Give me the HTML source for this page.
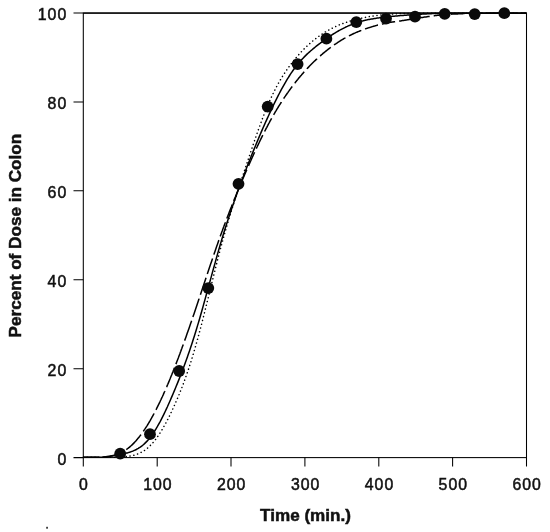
<!DOCTYPE html><html><head><meta charset="utf-8"><title>Percent of Dose in Colon</title>
<style>html,body{margin:0;padding:0;background:#fff}svg{display:block}text{font-family:"Liberation Sans",sans-serif;fill:#111;stroke:#111;stroke-width:0.5px}</style></head><body>
<svg width="550" height="532" viewBox="0 0 550 532">
<rect width="550" height="532" fill="#fff"/>
<rect x="83.3" y="13.0" width="443.2" height="444.6" fill="none" stroke="#000" stroke-width="1.05"/>
<path d="M83.3,13.05 H526.5" stroke="#000" stroke-width="1.3" fill="none"/>
<path d="M83.3,457.6 v9 M157.2,457.6 v9 M231.0,457.6 v9 M304.9,457.6 v9 M378.8,457.6 v9 M452.6,457.6 v9 M526.5,457.6 v9 M83.3,457.6 h-9.8 M83.3,368.7 h-9.8 M83.3,279.8 h-9.8 M83.3,190.8 h-9.8 M83.3,101.9 h-9.8 M83.3,13.0 h-9.8" stroke="#000" stroke-width="1.05" fill="none"/>
<text x="84.0" y="490.2" font-size="15.8" letter-spacing="1" text-anchor="middle">0</text>
<text x="157.9" y="490.2" font-size="15.8" letter-spacing="1" text-anchor="middle">100</text>
<text x="231.7" y="490.2" font-size="15.8" letter-spacing="1" text-anchor="middle">200</text>
<text x="305.6" y="490.2" font-size="15.8" letter-spacing="1" text-anchor="middle">300</text>
<text x="379.5" y="490.2" font-size="15.8" letter-spacing="1" text-anchor="middle">400</text>
<text x="453.3" y="490.2" font-size="15.8" letter-spacing="1" text-anchor="middle">500</text>
<text x="527.2" y="490.2" font-size="15.8" letter-spacing="1" text-anchor="middle">600</text>
<text x="67.3" y="464.6" font-size="15.9" letter-spacing="1" text-anchor="end">0</text>
<text x="67.3" y="375.7" font-size="15.9" letter-spacing="1" text-anchor="end">20</text>
<text x="67.3" y="286.8" font-size="15.9" letter-spacing="1" text-anchor="end">40</text>
<text x="67.3" y="197.8" font-size="15.9" letter-spacing="1" text-anchor="end">60</text>
<text x="67.3" y="108.9" font-size="15.9" letter-spacing="1" text-anchor="end">80</text>
<text x="67.3" y="20.0" font-size="15.9" letter-spacing="1" text-anchor="end">100</text>
<text transform="translate(305.5,520.5) scale(1.03,1)" font-size="16.6" font-weight="bold" text-anchor="middle">Time (min.)</text>
<text transform="translate(20.6,235.6) rotate(-90) scale(1.033,1)" font-size="16.6" font-weight="bold" text-anchor="middle">Percent of Dose in Colon</text>
<path d="M83.3,457.3 L83.8,457.3 L84.3,457.3 L84.8,457.3 L85.3,457.3 L85.8,457.3 L86.3,457.3 L86.8,457.3 L87.3,457.3 L87.8,457.3 L88.3,457.3 L88.8,457.3 L89.3,457.3 L89.8,457.3 L90.3,457.3 L90.8,457.3 L91.3,457.3 L91.8,457.3 L92.3,457.3 L92.8,457.3 L93.3,457.3 L93.8,457.3 L94.3,457.2 L94.8,457.2 L95.3,457.2 L95.8,457.2 L96.3,457.2 L96.8,457.2 L97.3,457.2 L97.8,457.2 L98.3,457.2 L98.8,457.1 M102.8,457.0 L102.8,457.0 L103.3,456.9 L103.8,456.9 L104.3,456.9 L104.8,456.8 L105.3,456.8 L105.8,456.7 L106.3,456.7 L106.8,456.6 L107.3,456.6 L107.8,456.5 L108.3,456.5 L108.8,456.4 L109.3,456.3 L109.8,456.2 L110.3,456.1 L110.8,456.0 L111.3,455.9 L111.8,455.8 L112.3,455.7 L112.8,455.6 L113.3,455.5 L113.8,455.4 L114.3,455.2 L114.8,455.1 L115.3,455.0 L115.8,454.8 L116.3,454.6 L116.8,454.5 L117.3,454.3 L117.8,454.1 L118.3,453.9 L118.8,453.7 L119.3,453.5 L119.8,453.3 L120.3,453.1 L120.8,452.8 L121.3,452.6 L121.8,452.3 L122.3,452.1 L122.8,451.8 L122.9,451.7 M126.3,449.6 L126.8,449.2 L127.3,448.9 L127.8,448.5 L128.3,448.1 L128.8,447.7 L129.3,447.3 L129.8,446.9 L130.3,446.4 L130.8,446.0 L131.3,445.5 L131.8,445.1 L132.3,444.6 L132.8,444.1 L133.3,443.6 L133.8,443.1 L134.3,442.6 L134.8,442.1 L135.3,441.5 L135.8,441.0 L136.3,440.4 L136.8,439.8 L137.3,439.2 L137.8,438.6 L138.3,438.0 L138.8,437.4 L139.3,436.8 L139.8,436.1 L140.3,435.5 L140.8,434.8 L140.9,434.6 M143.3,431.4 L143.3,431.4 L143.8,430.6 L144.3,429.9 L144.8,429.2 L145.3,428.4 L145.8,427.6 L146.3,426.8 L146.8,426.1 L147.3,425.3 L147.8,424.5 L148.3,423.6 L148.8,422.8 L149.3,422.0 L149.8,421.1 L150.3,420.3 L150.8,419.4 L151.3,418.5 L151.8,417.6 L152.3,416.7 L152.8,415.8 L153.3,414.9 L153.8,414.0 L154.1,413.4 M156.0,409.9 L156.3,409.2 L156.8,408.2 L157.3,407.2 L157.8,406.2 L158.3,405.2 L158.8,404.2 L159.3,403.1 L159.8,402.1 L160.3,401.0 L160.8,400.0 L161.3,398.9 L161.8,397.8 L162.3,396.8 L162.8,395.7 L163.3,394.6 L163.8,393.4 L164.3,392.3 L164.8,391.2 L164.9,390.9 M166.5,387.2 L166.8,386.6 L167.3,385.4 L167.8,384.3 L168.3,383.1 L168.8,381.9 L169.3,380.7 L169.8,379.5 L170.3,378.3 L170.8,377.0 L171.3,375.8 L171.8,374.6 L172.3,373.3 L172.8,372.1 L173.3,370.8 L173.8,369.6 L174.3,368.3 L174.5,367.8 M175.9,364.1 L176.3,363.1 L176.8,361.8 L177.3,360.5 L177.8,359.2 L178.3,357.9 L178.8,356.5 L179.3,355.2 L179.8,353.9 L180.3,352.5 L180.8,351.2 L181.3,349.8 L181.8,348.5 L182.3,347.1 L182.8,345.7 L183.3,344.4 M184.6,340.6 L184.8,340.2 L185.3,338.8 L185.8,337.4 L186.3,336.0 L186.8,334.6 L187.3,333.1 L187.8,331.7 L188.3,330.3 L188.8,328.9 L189.3,327.4 L189.8,326.0 L190.3,324.6 L190.8,323.1 L191.3,321.7 L191.6,320.8 M192.9,317.0 L193.3,315.8 L193.8,314.4 L194.3,312.9 L194.8,311.4 L195.3,310.0 L195.8,308.5 L196.3,307.0 L196.8,305.5 L197.3,304.0 L197.8,302.5 L198.3,301.0 L198.8,299.6 L199.1,298.6 M200.4,294.8 L200.8,293.6 L201.3,292.1 L201.8,290.6 L202.3,289.1 L202.8,287.6 L203.3,286.1 L203.8,284.6 L204.3,283.1 L204.8,281.6 L205.3,280.1 L205.8,278.6 L206.0,277.8 M207.3,274.0 L207.8,272.6 L208.3,271.1 L208.8,269.6 L209.3,268.1 L209.8,266.6 L210.3,265.1 L210.8,263.6 L211.3,262.2 L211.8,260.7 L212.3,259.2 L212.6,258.4 M213.9,254.6 L214.3,253.3 L214.8,251.9 L215.3,250.4 L215.8,249.0 L216.3,247.6 L216.8,246.1 L217.3,244.7 L217.8,243.3 L218.3,241.8 L218.8,240.4 L218.9,240.2 M220.2,236.4 L220.3,236.2 L220.8,234.8 L221.3,233.4 L221.8,232.0 L222.3,230.7 L222.8,229.3 L223.3,227.9 L223.8,226.6 L224.3,225.2 L224.8,223.9 L225.3,222.6 L225.4,222.3 M226.8,218.6 L226.8,218.6 L227.3,217.3 L227.8,216.0 L228.3,214.7 L228.8,213.4 L229.3,212.1 L229.8,210.8 L230.3,209.5 L230.8,208.2 L231.3,207.0 L231.8,205.7 L232.2,204.6 M233.7,200.9 L233.8,200.7 L234.3,199.4 L234.8,198.2 L235.3,197.0 L235.8,195.7 L236.3,194.5 L236.8,193.3 L237.3,192.1 L237.8,190.9 L238.3,189.7 L238.8,188.5 L239.3,187.3 L239.4,187.0 M241.0,183.3 L241.3,182.5 L241.8,181.3 L242.3,180.2 L242.8,179.0 L243.3,177.8 L243.8,176.7 L244.3,175.5 L244.8,174.3 L245.3,173.2 L245.8,172.0 L246.3,170.9 L246.8,169.7 L246.9,169.6 M248.5,165.9 L248.8,165.2 L249.3,164.0 L249.8,162.9 L250.3,161.8 L250.8,160.7 L251.3,159.5 L251.8,158.4 L252.3,157.3 L252.8,156.2 L253.3,155.1 L253.8,154.0 L254.3,152.9 L254.6,152.2 M256.3,148.6 L256.8,147.5 L257.3,146.5 L257.8,145.4 L258.3,144.4 L258.8,143.3 L259.3,142.3 L259.8,141.2 L260.3,140.2 L260.8,139.2 L261.3,138.1 L261.8,137.1 L262.3,136.1 L262.8,135.1 L262.8,135.1 M264.6,131.5 L264.8,131.1 L265.3,130.2 L265.8,129.2 L266.3,128.2 L266.8,127.3 L267.3,126.3 L267.8,125.4 L268.3,124.4 L268.8,123.5 L269.3,122.6 L269.8,121.6 L270.3,120.7 L270.8,119.8 L271.3,118.9 L271.7,118.3 M273.6,114.8 L273.8,114.5 L274.3,113.7 L274.8,112.8 L275.3,111.9 L275.8,111.1 L276.3,110.3 L276.8,109.4 L277.3,108.6 L277.8,107.8 L278.3,107.0 L278.8,106.2 L279.3,105.4 L279.8,104.6 L280.3,103.8 L280.8,103.0 L281.3,102.2 L281.4,102.0 M283.6,98.6 L283.8,98.4 L284.3,97.6 L284.8,96.9 L285.3,96.2 L285.8,95.4 L286.3,94.7 L286.8,94.0 L287.3,93.3 L287.8,92.6 L288.3,91.8 L288.8,91.1 L289.3,90.5 L289.8,89.8 L290.3,89.1 L290.8,88.4 L291.3,87.7 L291.8,87.0 L292.3,86.4 L292.3,86.4 M294.7,83.2 L294.8,83.1 L295.3,82.5 L295.8,81.8 L296.3,81.2 L296.8,80.6 L297.3,80.0 L297.8,79.4 L298.3,78.7 L298.8,78.1 L299.3,77.5 L299.8,76.9 L300.3,76.3 L300.8,75.7 L301.3,75.2 L301.8,74.6 L302.3,74.0 L302.8,73.4 L303.3,72.9 L303.8,72.3 L304.2,71.8 M306.9,68.9 L307.3,68.4 L307.8,67.9 L308.3,67.4 L308.8,66.9 L309.3,66.3 L309.8,65.8 L310.3,65.3 L310.8,64.8 L311.3,64.3 L311.8,63.8 L312.3,63.3 L312.8,62.8 L313.3,62.3 L313.8,61.8 L314.3,61.3 L314.8,60.8 L315.3,60.4 L315.8,59.9 L316.3,59.4 L316.8,59.0 L317.1,58.7 M320.0,56.0 L320.3,55.8 L320.8,55.4 L321.3,54.9 L321.8,54.5 L322.3,54.1 L322.8,53.6 L323.3,53.2 L323.8,52.8 L324.3,52.4 L324.8,52.0 L325.3,51.6 L325.8,51.2 L326.3,50.8 L326.8,50.4 L327.3,50.0 L327.8,49.6 L328.3,49.2 L328.8,48.8 L329.3,48.4 L329.8,48.0 L330.3,47.7 L330.8,47.3 L330.8,47.3 M334.1,45.0 L334.3,44.8 L334.8,44.4 L335.3,44.1 L335.8,43.8 L336.3,43.4 L336.8,43.1 L337.3,42.8 L337.8,42.4 L338.3,42.1 L338.8,41.8 L339.3,41.5 L339.8,41.1 L340.3,40.8 L340.8,40.5 L341.3,40.2 L341.8,39.9 L342.3,39.6 L342.8,39.3 L343.3,39.0 L343.8,38.7 L344.3,38.4 L344.8,38.2 L345.3,37.9 L345.5,37.8 M349.0,35.9 L349.3,35.7 L349.8,35.5 L350.3,35.2 L350.8,35.0 L351.3,34.7 L351.8,34.5 L352.3,34.2 L352.8,34.0 L353.3,33.8 L353.8,33.5 L354.3,33.3 L354.8,33.1 L355.3,32.9 L355.8,32.6 L356.3,32.4 L356.8,32.2 L357.3,32.0 L357.8,31.8 L358.3,31.6 L358.8,31.4 L359.3,31.2 L359.8,31.0 L360.3,30.8 L360.8,30.6 L361.3,30.4 L361.3,30.4 M365.1,29.0 L365.3,28.9 L365.8,28.7 L366.3,28.6 L366.8,28.4 L367.3,28.2 L367.8,28.1 L368.3,27.9 L368.8,27.7 L369.3,27.6 L369.8,27.4 L370.3,27.3 L370.8,27.1 L371.3,26.9 L371.8,26.8 L372.3,26.6 L372.8,26.5 L373.3,26.3 L373.8,26.2 L374.3,26.1 L374.8,25.9 L375.3,25.8 L375.8,25.6 L376.3,25.5 L376.8,25.4 L377.3,25.2 L377.8,25.1 L378.0,25.1 M381.9,24.1 L382.3,24.0 L382.8,23.9 L383.3,23.8 L383.8,23.6 L384.3,23.5 L384.8,23.4 L385.3,23.3 L385.8,23.2 L386.3,23.1 L386.8,23.0 L387.3,22.9 L387.8,22.8 L388.3,22.7 L388.8,22.6 L389.3,22.5 L389.8,22.4 L390.3,22.3 L390.8,22.3 L391.3,22.2 L391.8,22.1 L392.3,22.0 L392.8,22.0 L393.3,21.9 L393.8,21.8 L394.3,21.7 L394.8,21.7 L395.1,21.6 M399.1,21.1 L399.3,21.1 L399.8,21.0 L400.3,20.9 L400.8,20.9 L401.3,20.8 L401.8,20.7 L402.3,20.6 L402.8,20.6 L403.3,20.5 L403.8,20.4 L404.3,20.3 L404.8,20.3 L405.3,20.2 L405.8,20.1 L406.3,20.0 L406.8,19.9 L407.3,19.8 L407.8,19.8 L408.3,19.7 L408.8,19.6 L409.3,19.5 L409.8,19.4 L410.3,19.3 L410.8,19.3 L411.3,19.2 L411.8,19.1 L412.3,19.0 L412.4,19.0 M416.4,18.3 L416.8,18.3 L417.3,18.2 L417.8,18.1 L418.3,18.0 L418.8,18.0 L419.3,17.9 L419.8,17.8 L420.3,17.7 L420.8,17.7 L421.3,17.6 L421.8,17.5 L422.3,17.4 L422.8,17.4 L423.3,17.3 L423.8,17.2 L424.3,17.1 L424.8,17.1 L425.3,17.0 L425.8,16.9 L426.3,16.9 L426.8,16.8 L427.3,16.7 L427.8,16.6 L428.3,16.6 L428.8,16.5 L429.3,16.4 L429.7,16.4 M433.7,15.8 L433.8,15.8 L434.3,15.7 L434.8,15.7 L435.3,15.6 L435.8,15.5 L436.3,15.5 L436.8,15.4 L437.3,15.3 L437.8,15.3 L438.3,15.2 L438.8,15.2 L439.3,15.1 L439.8,15.0 L440.3,15.0 L440.8,14.9 L441.3,14.9 L441.8,14.8 L442.3,14.8 L442.8,14.8 L443.3,14.7 L443.8,14.7 L444.3,14.6 L444.8,14.6 L445.3,14.6 L445.8,14.5 L446.3,14.5 L446.8,14.5 L447.1,14.4 M451.1,14.2 L451.3,14.2 L451.8,14.2 L452.3,14.1 L452.8,14.1 L453.3,14.1 L453.8,14.0 L454.3,14.0 L454.8,14.0 L455.3,14.0 L455.8,13.9 L456.3,13.9 L456.8,13.9 L457.3,13.9 L457.8,13.9 L458.3,13.8 L458.8,13.8 L459.3,13.8 L459.8,13.8 L460.3,13.8 L460.8,13.7 L461.3,13.7 L461.8,13.7 L462.3,13.7 L462.8,13.7 L463.3,13.6 L463.8,13.6 L464.3,13.6 L464.6,13.6 M468.6,13.5 L468.8,13.5 L469.3,13.5 L469.8,13.5 L470.3,13.5 L470.8,13.5 L471.3,13.4 L471.8,13.4 L472.3,13.4 L472.8,13.4 L473.3,13.4 L473.8,13.4 L474.3,13.4 L474.8,13.4 L475.3,13.4 L475.8,13.4 L476.3,13.4 L476.8,13.4 L477.3,13.4 L477.8,13.4 L478.3,13.3 L478.8,13.3 L479.3,13.3 L479.8,13.3 L480.3,13.3 L480.8,13.3 L481.3,13.3 L481.8,13.3 L482.1,13.3 M486.1,13.3 L486.3,13.3 L486.8,13.3 L487.3,13.3 L487.8,13.3 L488.3,13.3 L488.8,13.3 L489.3,13.3 L489.8,13.3 L490.3,13.3 L490.8,13.3 L491.3,13.3 L491.8,13.3 L492.3,13.3 L492.8,13.3 L493.3,13.3 L493.8,13.3 L494.3,13.3 L494.8,13.3 L495.3,13.3 L495.8,13.3 L496.3,13.3 L496.8,13.3 L497.3,13.3 L497.8,13.3 L498.3,13.3 L498.8,13.3 L499.3,13.3 L499.6,13.3 M503.6,13.3 L503.8,13.3 L504.3,13.3 L504.8,13.3 L505.3,13.3 L505.8,13.3 L506.3,13.3 L506.8,13.3 L507.3,13.3 L507.8,13.3 L508.3,13.3 L508.8,13.3 L509.3,13.3 L509.8,13.3 L510.3,13.3 L510.8,13.3 L511.3,13.3 L511.8,13.3 L512.3,13.3 L512.8,13.3 L513.3,13.3 L513.8,13.3 L514.3,13.3 L514.8,13.3 L515.3,13.3 L515.8,13.3 L516.3,13.3 L516.8,13.3 L517.1,13.3 M521.1,13.3 L521.3,13.3 L521.8,13.3 L522.3,13.3 L522.8,13.3 L523.3,13.3 L523.8,13.3 L524.3,13.3 L524.8,13.3 L525.3,13.3 L525.8,13.3 L526.3,13.3" fill="none" stroke="#000" stroke-width="1.5"/>
<path d="M83.3,457.3 L84.3,457.3 L85.3,457.3 L86.3,457.3 L87.3,457.3 L88.3,457.3 L89.3,457.3 L90.3,457.3 L91.3,457.3 L92.3,457.3 L93.3,457.3 L94.3,457.3 L95.3,457.3 L96.3,457.3 L97.3,457.3 L98.3,457.3 L99.3,457.3 L100.3,457.3 L101.3,457.3 L102.3,457.3 L103.3,457.3 L104.3,457.3 L105.3,457.3 L106.3,457.3 L107.3,457.3 L108.3,457.3 L109.3,457.3 L110.3,457.3 L111.3,457.3 L112.3,457.3 L113.3,457.3 L114.3,457.3 L115.3,457.3 L116.3,457.3 L117.3,457.2 L118.3,457.2 L119.3,457.1 L120.3,457.1 L121.3,457.0 L122.3,456.9 L123.3,456.9 L124.3,456.8 L125.3,456.7 L126.3,456.6 L127.3,456.5 L128.3,456.3 L129.3,456.2 L130.3,456.0 L131.3,455.8 L132.3,455.6 L133.3,455.4 L134.3,455.1 L135.3,454.8 L136.3,454.5 L137.3,454.1 L138.3,453.8 L139.3,453.3 L140.3,452.9 L141.3,452.3 L142.3,451.8 L143.3,451.2 L144.3,450.6 L145.3,449.9 L146.3,449.1 L147.3,448.3 L148.3,447.4 L149.3,446.5 L150.3,445.5 L151.3,444.5 L152.3,443.4 L153.3,442.3 L154.3,441.0 L155.3,439.8 L156.3,438.4 L157.3,437.1 L158.3,435.6 L159.3,434.1 L160.3,432.6 L161.3,431.0 L162.3,429.3 L163.3,427.6 L164.3,425.8 L165.3,424.0 L166.3,422.1 L167.3,420.2 L168.3,418.3 L169.3,416.3 L170.3,414.2 L171.3,412.1 L172.3,410.0 L173.3,407.8 L174.3,405.6 L175.3,403.4 L176.3,401.1 L177.3,398.8 L178.3,396.4 L179.3,394.0 L180.3,391.5 L181.3,389.0 L182.3,386.4 L183.3,383.8 L184.3,381.1 L185.3,378.3 L186.3,375.5 L187.3,372.6 L188.3,369.7 L189.3,366.7 L190.3,363.6 L191.3,360.5 L192.3,357.3 L193.3,354.0 L194.3,350.6 L195.3,347.2 L196.3,343.7 L197.3,340.2 L198.3,336.5 L199.3,332.8 L200.3,329.0 L201.3,325.2 L202.3,321.3 L203.3,317.4 L204.3,313.5 L205.3,309.5 L206.3,305.4 L207.3,301.4 L208.3,297.3 L209.3,293.3 L210.3,289.2 L211.3,285.1 L212.3,281.0 L213.3,277.0 L214.3,272.9 L215.3,268.9 L216.3,264.9 L217.3,261.0 L218.3,257.1 L219.3,253.2 L220.3,249.4 L221.3,245.7 L222.3,242.0 L223.3,238.3 L224.3,234.8 L225.3,231.2 L226.3,227.8 L227.3,224.4 L228.3,221.0 L229.3,217.7 L230.3,214.4 L231.3,211.1 L232.3,207.9 L233.3,204.7 L234.3,201.6 L235.3,198.4 L236.3,195.4 L237.3,192.3 L238.3,189.2 L239.3,186.2 L240.3,183.2 L241.3,180.1 L242.3,177.1 L243.3,174.1 L244.3,171.1 L245.3,168.1 L246.3,165.1 L247.3,162.1 L248.3,159.1 L249.3,156.1 L250.3,153.1 L251.3,150.2 L252.3,147.2 L253.3,144.3 L254.3,141.3 L255.3,138.4 L256.3,135.6 L257.3,132.7 L258.3,129.9 L259.3,127.1 L260.3,124.4 L261.3,121.7 L262.3,119.0 L263.3,116.4 L264.3,113.8 L265.3,111.3 L266.3,108.8 L267.3,106.4 L268.3,104.0 L269.3,101.7 L270.3,99.5 L271.3,97.3 L272.3,95.2 L273.3,93.1 L274.3,91.1 L275.3,89.1 L276.3,87.2 L277.3,85.3 L278.3,83.5 L279.3,81.8 L280.3,80.0 L281.3,78.4 L282.3,76.7 L283.3,75.1 L284.3,73.6 L285.3,72.1 L286.3,70.6 L287.3,69.1 L288.3,67.7 L289.3,66.3 L290.3,65.0 L291.3,63.7 L292.3,62.4 L293.3,61.1 L294.3,59.9 L295.3,58.6 L296.3,57.5 L297.3,56.3 L298.3,55.1 L299.3,54.0 L300.3,52.9 L301.3,51.8 L302.3,50.8 L303.3,49.7 L304.3,48.7 L305.3,47.7 L306.3,46.8 L307.3,45.8 L308.3,44.9 L309.3,44.0 L310.3,43.1 L311.3,42.2 L312.3,41.4 L313.3,40.5 L314.3,39.7 L315.3,38.9 L316.3,38.2 L317.3,37.4 L318.3,36.7 L319.3,36.0 L320.3,35.3 L321.3,34.6 L322.3,33.9 L323.3,33.3 L324.3,32.7 L325.3,32.0 L326.3,31.4 L327.3,30.9 L328.3,30.3 L329.3,29.7 L330.3,29.2 L331.3,28.7 L332.3,28.2 L333.3,27.7 L334.3,27.2 L335.3,26.7 L336.3,26.3 L337.3,25.8 L338.3,25.4 L339.3,24.9 L340.3,24.5 L341.3,24.1 L342.3,23.7 L343.3,23.4 L344.3,23.0 L345.3,22.6 L346.3,22.3 L347.3,22.0 L348.3,21.6 L349.3,21.3 L350.3,21.0 L351.3,20.7 L352.3,20.4 L353.3,20.1 L354.3,19.9 L355.3,19.6 L356.3,19.3 L357.3,19.1 L358.3,18.9 L359.3,18.6 L360.3,18.4 L361.3,18.2 L362.3,18.0 L363.3,17.8 L364.3,17.6 L365.3,17.4 L366.3,17.2 L367.3,17.0 L368.3,16.8 L369.3,16.6 L370.3,16.5 L371.3,16.3 L372.3,16.2 L373.3,16.0 L374.3,15.9 L375.3,15.7 L376.3,15.6 L377.3,15.5 L378.3,15.4 L379.3,15.2 L380.3,15.1 L381.3,15.0 L382.3,14.9 L383.3,14.8 L384.3,14.7 L385.3,14.6 L386.3,14.5 L387.3,14.4 L388.3,14.4 L389.3,14.3 L390.3,14.2 L391.3,14.1 L392.3,14.1 L393.3,14.0 L394.3,13.9 L395.3,13.9 L396.3,13.8 L397.3,13.8 L398.3,13.7 L399.3,13.7 L400.3,13.6 L401.3,13.6 L402.3,13.5 L403.3,13.5 L404.3,13.5 L405.3,13.4 L406.3,13.4 L407.3,13.4 L408.3,13.4 L409.3,13.3 L410.3,13.3 L411.3,13.3 L412.3,13.3 L413.3,13.3 L414.3,13.2 L415.3,13.2 L416.3,13.2 L417.3,13.2 L418.3,13.2 L419.3,13.2 L420.3,13.2 L421.3,13.2 L422.3,13.2 L423.3,13.2 L424.3,13.2 L425.3,13.2 L426.3,13.2 L427.3,13.2 L428.3,13.2 L429.3,13.2 L430.3,13.2 L431.3,13.2 L432.3,13.2 L433.3,13.2 L434.3,13.2 L435.3,13.2 L436.3,13.2 L437.3,13.2 L438.3,13.2 L439.3,13.2 L440.3,13.2 L441.3,13.2 L442.3,13.2 L443.3,13.2 L444.3,13.2 L445.3,13.2 L446.3,13.2 L447.3,13.2 L448.3,13.2 L449.3,13.2 L450.3,13.2 L451.3,13.2 L452.3,13.2 L453.3,13.2 L454.3,13.2 L455.3,13.2 L456.3,13.2 L457.3,13.2 L458.3,13.2 L459.3,13.2 L460.3,13.2 L461.3,13.2 L462.3,13.2 L463.3,13.2 L464.3,13.2 L465.3,13.2 L466.3,13.2 L467.3,13.2 L468.3,13.2 L469.3,13.2 L470.3,13.2 L471.3,13.2 L472.3,13.2 L473.3,13.2 L474.3,13.2 L475.3,13.2 L476.3,13.2 L477.3,13.2 L478.3,13.2 L479.3,13.2 L480.3,13.2 L481.3,13.2 L482.3,13.2 L483.3,13.2 L484.3,13.2 L485.3,13.2 L486.3,13.2 L487.3,13.2 L488.3,13.2 L489.3,13.2 L490.3,13.2 L491.3,13.2 L492.3,13.2 L493.3,13.2 L494.3,13.2 L495.3,13.2 L496.3,13.2 L497.3,13.2 L498.3,13.2 L499.3,13.2 L500.3,13.2 L501.3,13.2 L502.3,13.2 L503.3,13.2 L504.3,13.2 L505.3,13.2 L506.3,13.2 L507.3,13.2 L508.3,13.2 L509.3,13.2 L510.3,13.2 L511.3,13.2 L512.3,13.2 L513.3,13.2 L514.3,13.2 L515.3,13.2 L516.3,13.2 L517.3,13.2 L518.3,13.2 L519.3,13.2 L520.3,13.2 L521.3,13.2 L522.3,13.2 L523.3,13.2 L524.3,13.2 L525.3,13.2 L526.3,13.2" fill="none" stroke="#000" stroke-width="1.5" stroke-linecap="round" stroke-dasharray="0.1 3.8"/>
<path d="M83.3,457.3 L84.3,457.3 L85.3,457.3 L86.3,457.3 L87.3,457.3 L88.3,457.3 L89.3,457.3 L90.3,457.3 L91.3,457.3 L92.3,457.3 L93.3,457.3 L94.3,457.3 L95.3,457.3 L96.3,457.3 L97.3,457.3 L98.3,457.3 L99.3,457.3 L100.3,457.3 L101.3,457.3 L102.3,457.3 L103.3,457.2 L104.3,457.0 L105.3,456.9 L106.3,456.8 L107.3,456.7 L108.3,456.5 L109.3,456.4 L110.3,456.3 L111.3,456.1 L112.3,455.9 L113.3,455.8 L114.3,455.6 L115.3,455.4 L116.3,455.3 L117.3,455.1 L118.3,454.9 L119.3,454.7 L120.3,454.5 L121.3,454.3 L122.3,454.1 L123.3,453.9 L124.3,453.6 L125.3,453.4 L126.3,453.1 L127.3,452.9 L128.3,452.6 L129.3,452.3 L130.3,452.0 L131.3,451.6 L132.3,451.3 L133.3,450.9 L134.3,450.4 L135.3,450.0 L136.3,449.5 L137.3,448.9 L138.3,448.4 L139.3,447.7 L140.3,447.1 L141.3,446.3 L142.3,445.6 L143.3,444.8 L144.3,443.9 L145.3,442.9 L146.3,441.9 L147.3,440.9 L148.3,439.8 L149.3,438.6 L150.3,437.3 L151.3,436.0 L152.3,434.6 L153.3,433.1 L154.3,431.6 L155.3,430.0 L156.3,428.4 L157.3,426.7 L158.3,424.9 L159.3,423.1 L160.3,421.3 L161.3,419.4 L162.3,417.4 L163.3,415.4 L164.3,413.4 L165.3,411.3 L166.3,409.1 L167.3,407.0 L168.3,404.7 L169.3,402.5 L170.3,400.2 L171.3,397.9 L172.3,395.6 L173.3,393.2 L174.3,390.9 L175.3,388.5 L176.3,386.0 L177.3,383.6 L178.3,381.1 L179.3,378.6 L180.3,376.0 L181.3,373.4 L182.3,370.8 L183.3,368.2 L184.3,365.5 L185.3,362.7 L186.3,360.0 L187.3,357.2 L188.3,354.3 L189.3,351.4 L190.3,348.4 L191.3,345.5 L192.3,342.4 L193.3,339.3 L194.3,336.2 L195.3,333.0 L196.3,329.7 L197.3,326.4 L198.3,323.1 L199.3,319.7 L200.3,316.2 L201.3,312.7 L202.3,309.2 L203.3,305.6 L204.3,302.0 L205.3,298.4 L206.3,294.8 L207.3,291.2 L208.3,287.5 L209.3,283.9 L210.3,280.2 L211.3,276.6 L212.3,272.9 L213.3,269.3 L214.3,265.7 L215.3,262.1 L216.3,258.5 L217.3,254.9 L218.3,251.4 L219.3,248.0 L220.3,244.5 L221.3,241.1 L222.3,237.8 L223.3,234.5 L224.3,231.2 L225.3,228.0 L226.3,224.9 L227.3,221.8 L228.3,218.7 L229.3,215.7 L230.3,212.7 L231.3,209.7 L232.3,206.8 L233.3,203.9 L234.3,201.0 L235.3,198.2 L236.3,195.4 L237.3,192.6 L238.3,189.9 L239.3,187.2 L240.3,184.5 L241.3,181.8 L242.3,179.1 L243.3,176.5 L244.3,173.9 L245.3,171.3 L246.3,168.7 L247.3,166.1 L248.3,163.6 L249.3,161.1 L250.3,158.5 L251.3,156.0 L252.3,153.5 L253.3,151.1 L254.3,148.6 L255.3,146.2 L256.3,143.8 L257.3,141.4 L258.3,139.0 L259.3,136.6 L260.3,134.3 L261.3,131.9 L262.3,129.6 L263.3,127.3 L264.3,125.1 L265.3,122.8 L266.3,120.6 L267.3,118.4 L268.3,116.2 L269.3,114.0 L270.3,111.9 L271.3,109.7 L272.3,107.6 L273.3,105.5 L274.3,103.4 L275.3,101.4 L276.3,99.4 L277.3,97.4 L278.3,95.4 L279.3,93.5 L280.3,91.6 L281.3,89.7 L282.3,87.9 L283.3,86.1 L284.3,84.3 L285.3,82.6 L286.3,80.9 L287.3,79.2 L288.3,77.6 L289.3,76.0 L290.3,74.4 L291.3,72.9 L292.3,71.5 L293.3,70.0 L294.3,68.7 L295.3,67.3 L296.3,66.0 L297.3,64.8 L298.3,63.5 L299.3,62.4 L300.3,61.2 L301.3,60.1 L302.3,59.0 L303.3,57.9 L304.3,56.9 L305.3,55.9 L306.3,54.9 L307.3,53.9 L308.3,53.0 L309.3,52.1 L310.3,51.2 L311.3,50.3 L312.3,49.5 L313.3,48.6 L314.3,47.8 L315.3,47.0 L316.3,46.2 L317.3,45.4 L318.3,44.6 L319.3,43.8 L320.3,43.1 L321.3,42.3 L322.3,41.6 L323.3,40.8 L324.3,40.1 L325.3,39.4 L326.3,38.7 L327.3,38.0 L328.3,37.3 L329.3,36.6 L330.3,35.9 L331.3,35.3 L332.3,34.6 L333.3,34.0 L334.3,33.4 L335.3,32.8 L336.3,32.2 L337.3,31.6 L338.3,31.0 L339.3,30.4 L340.3,29.9 L341.3,29.3 L342.3,28.8 L343.3,28.3 L344.3,27.8 L345.3,27.3 L346.3,26.8 L347.3,26.4 L348.3,25.9 L349.3,25.5 L350.3,25.1 L351.3,24.7 L352.3,24.3 L353.3,23.9 L354.3,23.5 L355.3,23.2 L356.3,22.8 L357.3,22.5 L358.3,22.2 L359.3,21.9 L360.3,21.6 L361.3,21.3 L362.3,21.0 L363.3,20.8 L364.3,20.5 L365.3,20.3 L366.3,20.1 L367.3,19.8 L368.3,19.6 L369.3,19.4 L370.3,19.2 L371.3,19.0 L372.3,18.9 L373.3,18.7 L374.3,18.5 L375.3,18.4 L376.3,18.2 L377.3,18.0 L378.3,17.9 L379.3,17.8 L380.3,17.6 L381.3,17.5 L382.3,17.4 L383.3,17.3 L384.3,17.1 L385.3,17.0 L386.3,16.9 L387.3,16.8 L388.3,16.7 L389.3,16.6 L390.3,16.5 L391.3,16.4 L392.3,16.3 L393.3,16.2 L394.3,16.2 L395.3,16.1 L396.3,16.0 L397.3,15.9 L398.3,15.8 L399.3,15.7 L400.3,15.6 L401.3,15.6 L402.3,15.5 L403.3,15.4 L404.3,15.3 L405.3,15.2 L406.3,15.2 L407.3,15.1 L408.3,15.0 L409.3,14.9 L410.3,14.9 L411.3,14.8 L412.3,14.7 L413.3,14.7 L414.3,14.6 L415.3,14.5 L416.3,14.5 L417.3,14.4 L418.3,14.3 L419.3,14.3 L420.3,14.2 L421.3,14.2 L422.3,14.1 L423.3,14.0 L424.3,14.0 L425.3,13.9 L426.3,13.9 L427.3,13.8 L428.3,13.8 L429.3,13.7 L430.3,13.7 L431.3,13.7 L432.3,13.6 L433.3,13.6 L434.3,13.5 L435.3,13.5 L436.3,13.5 L437.3,13.4 L438.3,13.4 L439.3,13.4 L440.3,13.4 L441.3,13.3 L442.3,13.3 L443.3,13.3 L444.3,13.3 L445.3,13.2 L446.3,13.2 L447.3,13.2 L448.3,13.2 L449.3,13.2 L450.3,13.2 L451.3,13.2 L452.3,13.2 L453.3,13.2 L454.3,13.2 L455.3,13.2 L456.3,13.2 L457.3,13.2 L458.3,13.2 L459.3,13.2 L460.3,13.2 L461.3,13.2 L462.3,13.2 L463.3,13.2 L464.3,13.2 L465.3,13.2 L466.3,13.2 L467.3,13.2 L468.3,13.2 L469.3,13.2 L470.3,13.2 L471.3,13.2 L472.3,13.2 L473.3,13.2 L474.3,13.2 L475.3,13.2 L476.3,13.2 L477.3,13.2 L478.3,13.2 L479.3,13.2 L480.3,13.2 L481.3,13.2 L482.3,13.2 L483.3,13.2 L484.3,13.2 L485.3,13.2 L486.3,13.2 L487.3,13.2 L488.3,13.2 L489.3,13.2 L490.3,13.2 L491.3,13.2 L492.3,13.2 L493.3,13.2 L494.3,13.2 L495.3,13.2 L496.3,13.2 L497.3,13.2 L498.3,13.2 L499.3,13.2 L500.3,13.2 L501.3,13.2 L502.3,13.2 L503.3,13.2 L504.3,13.2 L505.3,13.2 L506.3,13.2 L507.3,13.2 L508.3,13.2 L509.3,13.2 L510.3,13.2 L511.3,13.2 L512.3,13.2 L513.3,13.2 L514.3,13.2 L515.3,13.2 L516.3,13.2 L517.3,13.2 L518.3,13.2 L519.3,13.2 L520.3,13.2 L521.3,13.2 L522.3,13.2 L523.3,13.2 L524.3,13.2 L525.3,13.2 L526.3,13.2" fill="none" stroke="#000" stroke-width="1.5"/>
<circle cx="120.2" cy="453.6" r="5.9" fill="#0a0a0a"/>
<circle cx="150.0" cy="434.2" r="5.9" fill="#0a0a0a"/>
<circle cx="179.2" cy="371.0" r="5.9" fill="#0a0a0a"/>
<circle cx="208.3" cy="288.1" r="5.9" fill="#0a0a0a"/>
<circle cx="238.5" cy="183.8" r="5.9" fill="#0a0a0a"/>
<circle cx="267.7" cy="106.6" r="5.9" fill="#0a0a0a"/>
<circle cx="297.6" cy="64.1" r="5.9" fill="#0a0a0a"/>
<circle cx="326.4" cy="38.7" r="5.9" fill="#0a0a0a"/>
<circle cx="356.3" cy="22.1" r="5.9" fill="#0a0a0a"/>
<circle cx="386.0" cy="18.6" r="5.9" fill="#0a0a0a"/>
<circle cx="415.0" cy="16.7" r="5.9" fill="#0a0a0a"/>
<circle cx="444.7" cy="13.9" r="5.9" fill="#0a0a0a"/>
<circle cx="474.7" cy="14.1" r="5.9" fill="#0a0a0a"/>
<circle cx="504.3" cy="13.2" r="5.9" fill="#0a0a0a"/>
<rect x="46.3" y="526.8" width="1.5" height="1.9" fill="#111"/>
</svg></body></html>
